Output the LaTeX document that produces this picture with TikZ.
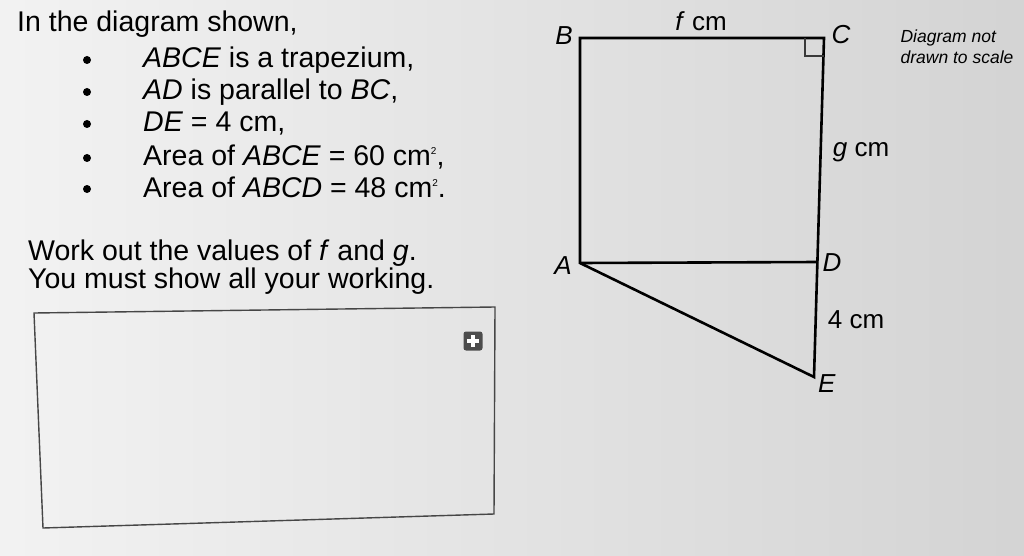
\documentclass[tikz,border=0pt]{standalone}
\usepackage{fontspec}
\setmainfont{Liberation Sans}

\begin{document}
\begin{tikzpicture}[x=1pt,y=-1pt,
    txt/.style={anchor=base west,inner sep=0pt,font=\fontsize{28.5}{32}\selectfont},
    lbl/.style={inner sep=0pt,font=\fontsize{26}{28}\selectfont},
    shp/.style={line width=2.6pt,line join=miter}]
    % background of the photographed screen
    \shade[left color=gray!10,right color=gray!34] (0,0) rectangle (1024,556);
    \useasboundingbox (0,0) rectangle (1024,556);

    % question text
    \node[txt] (intro) at (17,32) {In the diagram shown,};
    \foreach \y/\t [count=\i] in {68/{\textit{ABCE} is a trapezium,},
        100/{\textit{AD} is parallel to \textit{BC},},
        132/{\textit{DE} = 4 cm,},
        166/{Area of \textit{ABCE} = 60 cm\raisebox{11pt}{\fontsize{10}{10}\selectfont 2},},
        197/{Area of \textit{ABCD} = 48 cm\raisebox{11pt}{\fontsize{10}{10}\selectfont 2}.}} {
      \node[circle,fill=black,inner sep=0pt,minimum size=8pt] (bul\i) at (87,\y-8) {};
      \node[txt] (pt\i) at (143,\y) {\t};
    }
    \node[txt] (task1) at (28,260) {Work out the values of \textit{f} and \textit{g}.};
    \node[txt] (task2) at (28,288) {You must show all your working.};

    % answer box
    \draw[gray!55!black,line width=1.4pt] (34,313) -- (495,307) -- (494,514) -- (43,528) -- cycle;
    \node[fill=gray!60!black,rounded corners=2.5pt,minimum size=19pt,inner sep=0pt] (plus) at (473,341) {};
    \draw[white,line width=3.5pt] ([xshift=-6pt]plus.center) -- ([xshift=6pt]plus.center);
    \draw[white,line width=3.5pt] ([yshift=-6pt]plus.center) -- ([yshift=6pt]plus.center);

    % the trapezium
    \coordinate (A) at (580,263);
    \coordinate (B) at (580,38);
    \coordinate (C) at (824,38);
    \coordinate (D) at (818,262);
    \coordinate (E) at (814,377);
    \draw[shp] (A) -- (B) -- (C) -- (E) -- cycle;
    \draw[shp] (A) -- (D);
    \draw[gray!45!black,line width=1.3pt] ([xshift=-19pt]C) |- ([yshift=-18pt]C);

    \node[lbl] (labA) at (563,266) {\textit{A}};
    \node[lbl] (labB) at (564,36) {\textit{B}};
    \node[lbl] (labC) at (841,35) {\textit{C}};
    \node[lbl] (labD) at (832,263) {\textit{D}};
    \node[lbl] (labE) at (827,384) {\textit{E}};
    \node[lbl] (labf) at (701,21) {\textit{f} cm};
    \node[lbl] (labg) at (861,152) {\textit{g} cm};
    \node[lbl] (labDE) at (856,320) {4 cm};
    \node[inner sep=0pt,align=left,font=\fontsize{17.5}{21}\selectfont\itshape] (note) at (957,47)
      {Diagram not\\drawn to scale};
  \end{tikzpicture}
\end{document}
